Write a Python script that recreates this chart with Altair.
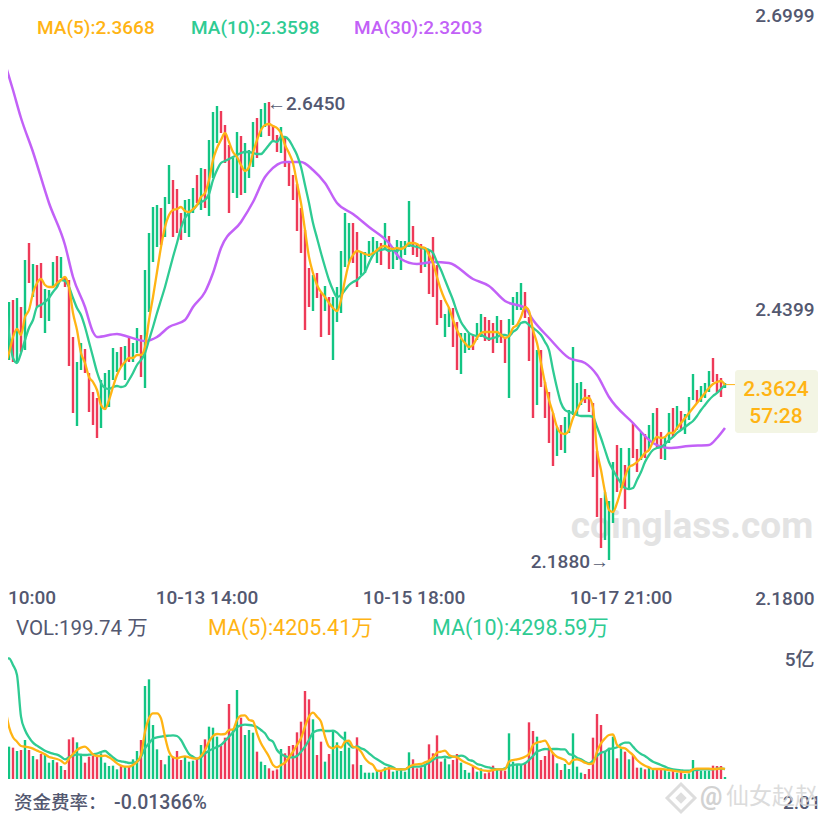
import altair as alt
import pandas as pd

GREEN, RED = "#12C583", "#EE3A58"
ORANGE, TEAL, PURPLE = "#FFB414", "#2FCB93", "#C261F7"
INK = "#535870"

direction = list(
    "GRGRGRGRGR" "RGGGRGRRRG" "GRRRRGGGGG" "RGRGGRGGGG" "RGGRRRGGGR"
    "GRGGGRRRGG" "RGGGRGGRRR" "GRRRRRRRGR" "RGRGGGGGRR" "GGGGGRGRGG"
    "GGGRRRGRRR" "RGGRRGGGRG" "GRRRGRRGGG" "GRRRGRRRRG" "RGGGGGRRRR"
    "RGGGRGRGRR" "GRGGRRGGRG" "RGGGRGGGRR" "RG"
)
highs = [
    2.452,2.440,2.445,2.447,2.449,2.440,2.487,2.504,2.483,2.482,
    2.484,2.458,2.457,2.485,2.491,2.490,2.470,2.467,2.410,2.385,
    2.404,2.398,2.374,2.355,2.349,2.367,2.374,2.377,2.399,2.395,
    2.400,2.401,2.409,2.404,2.419,2.412,2.477,2.514,2.540,2.542,
    2.539,2.550,2.582,2.567,2.558,2.534,2.547,2.548,2.559,2.572,
    2.579,2.578,2.607,2.635,2.641,2.636,2.622,2.602,2.589,2.615,
    2.611,2.604,2.597,2.625,2.629,2.638,2.644,2.645,2.622,2.612,
    2.620,2.609,2.584,2.572,2.563,2.539,2.517,2.479,2.472,2.474,
    2.454,2.461,2.450,2.450,2.460,2.496,2.534,2.524,2.524,2.515,
    2.495,2.495,2.506,2.510,2.506,2.504,2.524,2.511,2.500,2.507,
    2.506,2.506,2.546,2.521,2.503,2.503,2.500,2.497,2.510,2.482,
    2.447,2.433,2.439,2.439,2.425,2.414,2.414,2.414,2.412,2.424,
    2.433,2.430,2.427,2.424,2.431,2.427,2.410,2.428,2.450,2.455,
    2.464,2.455,2.430,2.420,2.397,2.397,2.365,2.355,2.334,2.320,
    2.322,2.330,2.337,2.400,2.364,2.365,2.358,2.352,2.344,2.296,
    2.249,2.255,2.246,2.285,2.302,2.299,2.282,2.299,2.324,2.298,
    2.315,2.313,2.322,2.334,2.339,2.315,2.310,2.334,2.339,2.341,
    2.336,2.333,2.350,2.373,2.357,2.361,2.364,2.376,2.389,2.373,
    2.369,2.364,
]
lows = [
    2.327,2.355,2.387,2.385,2.384,2.395,2.397,2.464,2.450,2.440,
    2.429,2.414,2.426,2.460,2.460,2.469,2.460,2.381,2.334,2.321,
    2.377,2.374,2.335,2.322,2.309,2.319,2.337,2.340,2.367,2.375,
    2.380,2.367,2.385,2.385,2.394,2.370,2.359,2.435,2.485,2.500,
    2.502,2.510,2.543,2.510,2.514,2.507,2.514,2.510,2.534,2.544,
    2.537,2.539,2.531,2.569,2.604,2.614,2.584,2.534,2.554,2.549,
    2.552,2.554,2.569,2.580,2.589,2.610,2.620,2.611,2.605,2.595,
    2.594,2.580,2.561,2.547,2.516,2.494,2.417,2.440,2.436,2.449,
    2.410,2.436,2.412,2.387,2.425,2.434,2.480,2.484,2.484,2.460,
    2.472,2.474,2.490,2.492,2.484,2.482,2.497,2.478,2.478,2.487,
    2.477,2.492,2.500,2.492,2.490,2.474,2.480,2.453,2.450,2.422,
    2.429,2.410,2.420,2.400,2.377,2.373,2.394,2.397,2.397,2.407,
    2.410,2.406,2.406,2.394,2.404,2.404,2.384,2.349,2.422,2.437,
    2.437,2.429,2.386,2.329,2.342,2.360,2.329,2.304,2.281,2.291,
    2.297,2.294,2.314,2.332,2.332,2.342,2.344,2.335,2.270,2.230,
    2.199,2.207,2.187,2.224,2.255,2.259,2.238,2.257,2.289,2.275,
    2.287,2.289,2.297,2.305,2.299,2.288,2.287,2.304,2.310,2.317,
    2.317,2.313,2.327,2.347,2.344,2.345,2.349,2.355,2.365,2.354,
    2.350,2.359,
]
ma5 = [
    2.374,2.382,2.394,2.410,2.418,2.412,2.430,2.437,2.454,2.464,
    2.468,2.462,2.460,2.460,2.464,2.467,2.470,2.460,2.434,2.417,
    2.394,2.384,2.370,2.365,2.357,2.342,2.338,2.347,2.360,2.372,
    2.380,2.385,2.389,2.389,2.392,2.392,2.400,2.427,2.450,2.475,
    2.500,2.520,2.532,2.537,2.538,2.540,2.536,2.535,2.538,2.542,
    2.550,2.554,2.567,2.587,2.599,2.607,2.614,2.605,2.595,2.590,
    2.582,2.576,2.580,2.594,2.607,2.617,2.622,2.623,2.621,2.619,
    2.614,2.602,2.594,2.584,2.564,2.544,2.517,2.490,2.474,2.462,
    2.455,2.450,2.444,2.439,2.436,2.447,2.467,2.484,2.492,2.496,
    2.495,2.493,2.492,2.494,2.497,2.500,2.501,2.499,2.498,2.499,
    2.498,2.500,2.504,2.504,2.503,2.500,2.499,2.492,2.484,2.470,
    2.457,2.447,2.439,2.427,2.417,2.409,2.404,2.400,2.402,2.409,
    2.414,2.415,2.415,2.415,2.415,2.412,2.409,2.411,2.419,2.422,
    2.430,2.440,2.436,2.417,2.404,2.384,2.364,2.347,2.334,2.320,
    2.314,2.313,2.317,2.329,2.337,2.345,2.349,2.349,2.339,2.297,
    2.277,2.255,2.237,2.235,2.244,2.257,2.270,2.280,2.282,2.285,
    2.289,2.294,2.297,2.305,2.310,2.309,2.310,2.314,2.314,2.319,
    2.324,2.329,2.334,2.339,2.344,2.349,2.354,2.359,2.363,2.365,
    2.366,2.362,
]
ma10 = [
    2.479,2.450,2.414,2.389,2.384,2.394,2.407,2.419,2.427,2.440,
    2.442,2.445,2.449,2.455,2.460,2.467,2.466,2.460,2.449,2.439,
    2.432,2.420,2.405,2.390,2.375,2.364,2.359,2.358,2.360,2.361,
    2.360,2.361,2.367,2.374,2.382,2.387,2.394,2.407,2.420,2.434,
    2.447,2.460,2.475,2.490,2.504,2.519,2.529,2.534,2.537,2.542,
    2.545,2.547,2.553,2.567,2.577,2.584,2.586,2.588,2.590,2.592,
    2.594,2.595,2.595,2.594,2.593,2.593,2.597,2.602,2.606,2.605,
    2.610,2.610,2.607,2.600,2.592,2.580,2.562,2.544,2.524,2.509,
    2.494,2.480,2.467,2.457,2.450,2.452,2.457,2.462,2.465,2.467,
    2.471,2.475,2.484,2.492,2.496,2.497,2.498,2.496,2.497,2.496,
    2.499,2.500,2.502,2.501,2.500,2.499,2.498,2.497,2.494,2.485,
    2.477,2.467,2.457,2.447,2.435,2.425,2.419,2.414,2.412,2.411,
    2.412,2.410,2.408,2.409,2.410,2.412,2.412,2.411,2.415,2.418,
    2.424,2.425,2.422,2.419,2.416,2.412,2.405,2.397,2.377,2.359,
    2.344,2.337,2.335,2.334,2.332,2.331,2.331,2.331,2.330,2.320,
    2.309,2.297,2.285,2.277,2.270,2.264,2.259,2.258,2.259,2.267,
    2.275,2.285,2.292,2.297,2.299,2.300,2.303,2.307,2.310,2.314,
    2.317,2.320,2.323,2.326,2.331,2.337,2.342,2.347,2.351,2.354,
    2.358,2.362,
]
ma30_idx = [
    0,3,5,8,12,16,18,21,23,24,29,32,36,39,42,46,48,51,53,55,60,63,66,67,71,75,78,81,84,88,
    92,97,100,104,108,112,118,122,126,131,133,137,142,146,149,152,158,163,167,172,177,179,181,
]
ma30 = [
    2.697,2.657,2.629,2.595,2.544,2.502,2.470,2.440,2.415,2.410,2.413,2.410,2.406,2.410,2.420,
    2.427,2.440,2.455,2.474,2.499,2.525,2.545,2.570,2.575,2.585,2.585,2.577,2.564,2.544,2.533,
    2.520,2.504,2.488,2.483,2.485,2.484,2.468,2.461,2.446,2.439,2.427,2.409,2.389,2.384,2.372,
    2.350,2.324,2.304,2.299,2.301,2.302,2.309,2.319,
]

# Volume readings, in lots of 140万.
LOT = 140
volume = [
    162,129,97,94,84,87,117,87,69,59, 75,72,49,57,50,39,27,119,125,110,
    74,49,67,69,67,77,49,39,40,29, 42,37,37,59,84,117,279,299,162,89,
    57,44,70,67,84,57,67,52,55,62, 102,119,157,154,127,99,124,225,147,267,
    184,132,147,139,82,52,42,32,25,29, 90,77,99,102,140,172,264,239,179,72,
    112,52,75,147,110,84,142,94,44,125, 42,19,19,19,27,22,35,37,22,25,
    32,22,80,59,32,35,42,104,77,131, 52,62,44,57,75,49,27,19,37,22,
    32,17,20,40,27,27,25,137,52,44, 45,47,170,144,127,57,69,97,79,47,
    27,45,30,137,37,19,15,30,124,195, 162,82,94,127,62,92,82,59,72,34,
    34,29,35,29,29,29,27,22,24,19, 22,15,17,57,25,25,25,25,40,39,
    39,6,
]
vol_ma5 = [
    272,217,157,125,112,99,97,95,91,85, 80,74,66,63,60,55,46,61,75,87,
    94,97,87,74,69,69,70,65,57,47, 40,37,37,42,52,72,142,182,197,197,
    182,127,82,65,62,66,68,65,62,61, 69,87,112,129,135,134,135,147,149,177,
    190,191,177,174,137,107,87,67,42,35, 42,49,65,82,102,122,157,187,199,187,
    172,127,97,92,99,94,112,115,97,94, 82,62,49,42,25,24,29,32,31,29,
    29,29,37,42,44,45,50,55,65,79, 82,85,72,67,65,57,50,45,39,32,
    27,25,24,27,29,29,29,52,57,59, 62,67,75,102,109,112,115,97,77,67,
    62,57,45,57,59,55,49,45,47,82, 107,122,132,134,102,94,92,82,72,57,
    47,40,35,30,30,30,29,27,25,23, 22,21,21,29,31,31,31,31,30,30,
    32,30,
]
vol_ma10 = [
    354,358,362,342,312,187,147,125,109,100, 92,85,80,76,73,67,59,65,70,74,
    73,72,73,74,76,81,84,75,65,56, 53,51,48,49,52,67,92,107,121,125,
    127,129,130,131,129,117,95,75,67,61, 65,77,85,91,96,102,114,127,140,155,
    161,163,162,160,156,147,137,119,112,87, 75,69,65,65,69,82,97,117,139,145,
    147,144,144,145,139,127,117,104,94,98, 92,87,77,67,59,52,44,40,35,29,
    29,29,35,37,37,38,42,49,57,64, 65,67,64,67,67,70,67,57,54,45,
    42,37,35,31,29,29,32,39,42,44, 43,47,57,69,82,87,90,89,90,90,
    89,89,75,72,64,59,52,47,55,69, 79,82,90,92,95,104,109,109,97,84,
    75,69,60,52,47,42,37,32,29,27, 26,25,25,27,27,29,29,29,29,31,
    31,30,
]

x_tick_idx = [7.75, 51.5, 103.25, 155]
x_tick_labels = ["10:00", "10-13 14:00", "10-15 18:00", "10-17 21:00"]
price_ticks = [2.6999, 2.4399, 2.18]
vol_ticks = [50000]

n = len(highs)
idx = list(range(n))
bars = pd.DataFrame({
    "i": idx, "high": highs, "low": lows, "dir": direction,
    "ma5": ma5, "ma10": ma10,
    "vol": [v * LOT for v in volume],
    "vma5": [v * LOT for v in vol_ma5],
    "vma10": [v * LOT for v in vol_ma10],
})
slow = pd.DataFrame({"i": ma30_idx, "ma30": ma30})

X = alt.Scale(domain=[1.75, 204.75], range=[0, 812])
PRICE = alt.Scale(domain=[1.931, 2.739], range=[808, 0])
VOLUME = alt.Scale(domain=[-15540, 323820], range=[808, 0])
COLORS = alt.Color("dir:N", scale=alt.Scale(domain=["G", "R"], range=[GREEN, RED]), legend=None)

x_plain = alt.X("i:Q", scale=X, axis=None)
py = lambda f: alt.Y(f, scale=PRICE, axis=None)
vy = lambda f: alt.Y(f, scale=VOLUME, axis=None)


def text(s, x, y, color=INK, size=19, align="left", weight="normal", font="Roboto", opacity=1):
    """A fixed caption placed at reference-picture pixels (page margin removed)."""
    return alt.Chart(pd.DataFrame({"t": [s]})).mark_text(
        align=align, baseline="middle", fontSize=size, fontWeight=weight, font=font,
        color=color, opacity=opacity,
    ).encode(x=alt.value(x - 8), y=alt.value(y - 8), text="t:N")


def line(data, field, color, scale_y, width=2.3):
    return alt.Chart(data).mark_line(
        color=color, strokeWidth=width, interpolate="monotone", clip=True
    ).encode(x=x_plain, y=scale_y(f"{field}:Q"))


candles = alt.Chart(bars).mark_rule(strokeWidth=2.4, clip=True).encode(
    x=x_plain, y=py("high:Q"), y2="low:Q", color=COLORS,
)
vol_bars = alt.Chart(bars).mark_rule(strokeWidth=2.4, clip=True).encode(
    x=x_plain, y=vy("vol:Q"), y2=alt.datum(0), color=COLORS,
)

time_labels = alt.Chart(pd.DataFrame({"i": x_tick_idx, "t": x_tick_labels})).mark_text(
    align="center", baseline="middle", fontSize=19, font="Roboto", fontWeight=500, color=INK,
).encode(x=x_plain, y=alt.value(598 - 8), text="t:N")

price_axis_layer = alt.Chart(pd.DataFrame({"v": price_ticks})).mark_point(opacity=0).encode(
    y=alt.Y("v:Q", scale=alt.Scale(domain=price_ticks, range=[7, 301, 590]), axis=alt.Axis(
        orient="right", values=price_ticks, format=".4f", title=None, grid=False, ticks=False, domain=False,
        labelAlign="right", labelPadding=-6, labelFont="Roboto", labelFontSize=19, labelFontWeight=500,
        labelColor=INK, labelOverlap=False, labelFlush=False,
    )),
)
vol_axis_layer = alt.Chart(pd.DataFrame({"v": vol_ticks})).mark_point(opacity=0).encode(
    y=alt.Y("v:Q", scale=VOLUME, axis=alt.Axis(
        orient="right", values=vol_ticks, labelExpr="(datum.value / 10000) + '亿'", title=None, grid=False,
        ticks=False, domain=False, labelAlign="right", labelPadding=-6,
        labelFont="Roboto, Noto Sans CJK SC", labelFontSize=19, labelFontWeight=500,
        labelColor=INK, labelOverlap=False, labelFlush=False,
    )),
)

high_mark = alt.Chart(pd.DataFrame({"i": [67], "p": [2.645], "t": ["←2.6450"]})).mark_text(
    align="left", baseline="middle", dx=-2, dy=2, fontSize=19, font="Roboto", fontWeight=500, color=INK,
).encode(x=x_plain, y=py("p:Q"), text="t:N")
low_mark = alt.Chart(pd.DataFrame({"i": [152], "p": [2.188], "t": ["2.1880→"]})).mark_text(
    align="right", baseline="middle", dx=0, dy=3, fontSize=19, font="Roboto", fontWeight=500, color=INK,
).encode(x=x_plain, y=py("p:Q"), text="t:N")

tag_box = alt.Chart(pd.DataFrame({"a": [0]})).mark_rect(color="#F3F5E4", cornerRadius=3).encode(
    x=alt.value(735 - 8), x2=alt.value(818 - 8), y=alt.value(370 - 8), y2=alt.value(433 - 8),
)
tag_rule = alt.Chart(pd.DataFrame({"i": [181.2], "i2": [183.5], "p": [2.3624]})).mark_rule(
    color=ORANGE, strokeWidth=1
).encode(x=x_plain, x2="i2:Q", y=py("p:Q"))

logo_outer = alt.Chart(pd.DataFrame({"a": [0]})).mark_point(
    shape="diamond", filled=False, color="#DADADA", strokeWidth=3, size=780, opacity=0.9
).encode(x=alt.value(681 - 8), y=alt.value(798 - 8))
logo_inner = alt.Chart(pd.DataFrame({"a": [0]})).mark_point(
    shape="diamond", filled=True, color="#DADADA", size=130, opacity=0.9
).encode(x=alt.value(681 - 8), y=alt.value(798 - 8))

chart = alt.layer(
    text("coinglass.com", 692, 527, color="#E3E3E3", size=37, align="center", weight="bold"),
    candles,
    line(slow, "ma30", PURPLE, py, width=2.5),
    line(bars, "ma10", TEAL, py),
    line(bars, "ma5", ORANGE, py),
    vol_bars,
    line(bars, "vma10", TEAL, vy),
    line(bars, "vma5", ORANGE, vy),
    time_labels,
    price_axis_layer,
    vol_axis_layer,
    high_mark,
    low_mark,
    tag_box,
    tag_rule,
    text("MA(5):2.3668", 37, 28, ORANGE, weight=500),
    text("MA(10):2.3598", 191, 28, TEAL, weight=500),
    text("MA(30):2.3203", 354, 28, PURPLE, weight=500),
    text("2.3624", 776, 390, ORANGE, size=21, align="center", weight=500),
    text("57:28", 776, 417, ORANGE, size=21, align="center", weight=500),
    text("VOL:199.74 万", 16, 629, size=20.5, font="Roboto, Noto Sans CJK SC"),
    text("MA(5):4205.41万", 208, 629, ORANGE, size=21.5, font="Roboto, Noto Sans CJK SC"),
    text("MA(10):4298.59万", 432, 629, TEAL, size=21.5, font="Roboto, Noto Sans CJK SC"),
    text("资金费率：", 14, 803, size=18.5, font="Noto Sans CJK SC", weight=500),
    text("-0.01366%", 114, 803, size=19.5, weight=500),
    text("2.01", 783, 803, size=19, weight=500),
    logo_outer,
    logo_inner,
    text("@", 700, 797, color="#D2D2D2", size=25, weight="bold"),
    text("仙女赵赵", 726, 797, color="#D6D6D6", size=23, font="Noto Sans CJK SC", opacity=0.85),
).resolve_scale(y="independent").properties(
    width=812, height=808, padding=0, autosize=alt.AutoSizeParams(type="none"),
).configure_view(stroke=None)

chart.save("out.html", embed_options={"renderer": "svg", "actions": False})
